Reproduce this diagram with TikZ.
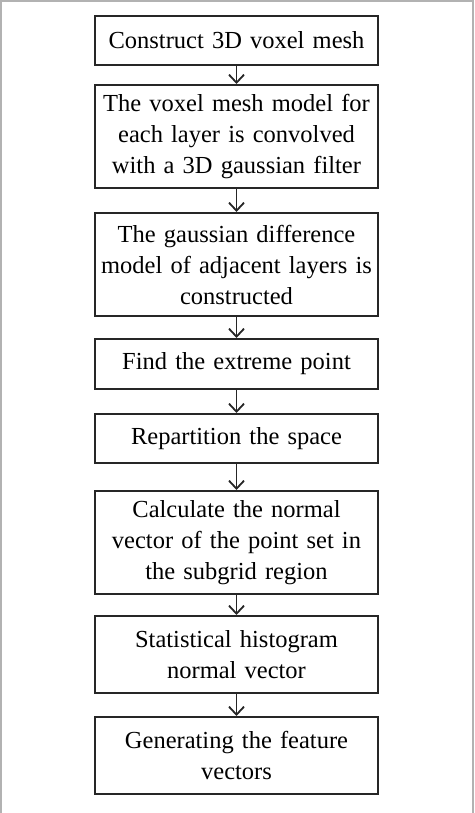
\documentclass[tikz,border=0pt]{standalone}
\usepackage{fontspec}
\setmainfont{Liberation Serif}
\usetikzlibrary{arrows.meta,positioning}

\begin{document}
\begin{tikzpicture}[x=1pt, y=-1pt, thick]

		\tikzstyle{stepbox}=[rectangle, draw=black!85, line width=2pt, fill=white, text=black, align=center, text width=279pt, inner xsep=2pt, inner ysep=0pt, minimum width=283pt, font=\fontsize{24.5}{31}\selectfont]
		\tikzstyle{flow}=[-{Straight Barb[length=8pt, width=15pt, line width=1.8pt]}, line width=1.8pt, black!85]

		\useasboundingbox (0,0) rectangle (474,813);

		% outer frame
		\draw[black!30, line width=2.5pt] (1,813) -- (1,1) -- (473,1) -- (473,813);

		\node[stepbox, minimum height=49pt]  (s1) at (236.5,40.5)  {Construct 3D voxel mesh};
		\node[stepbox, minimum height=103pt] (s2) at (236.5,136.5) {The voxel mesh model for\\each layer is convolved\\with a 3D gaussian filter};
		\node[stepbox, minimum height=103pt] (s3) at (236.5,264.5) {The gaussian difference\\model of adjacent layers is\\constructed};
		\node[stepbox, minimum height=50pt]  (s4) at (236.5,364)   {Find the extreme point};
		\node[stepbox, minimum height=49pt]  (s5) at (236.5,438.5) {Repartition the space};
		\node[stepbox, minimum height=103pt] (s6) at (236.5,542.5) {Calculate the normal\\vector of the point set in\\the subgrid region};
		\node[stepbox, minimum height=77pt]  (s7) at (236.5,654.5) {Statistical histogram\\normal vector};
		\node[stepbox, minimum height=77pt]  (s8) at (236.5,755.5) {Generating the feature\\vectors};

		% links
		\foreach \a/\b in {s1/s2, s2/s3, s3/s4, s4/s5, s5/s6, s6/s7, s7/s8}
		\draw[flow] (\a) -- (\b);

\end{tikzpicture}
\end{document}
